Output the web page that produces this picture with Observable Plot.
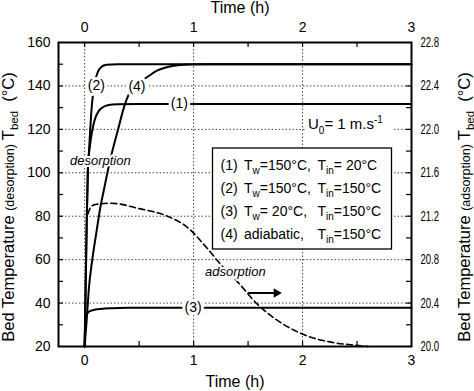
<!DOCTYPE html>
<html><head><meta charset="utf-8">
<script src="https://cdn.jsdelivr.net/npm/d3@7"></script>
<script src="https://cdn.jsdelivr.net/npm/@observablehq/plot@0.6"></script>
<style>body{margin:0;background:#fff}#chart{width:474px;height:391px}</style>
</head><body><div id="chart"></div>
<script>
// ---- tick labels / ticks
const hours = [0, 1, 2, 3];
const timeTicks = [0, 0.5, 1, 1.5, 2, 2.5];
const leftLabels = [20, 40, 60, 80, 100, 120, 140, 160];
const leftTicks = [30, 40, 50, 60, 70, 80, 90, 100, 110, 120, 130, 140, 150];
const rightLabels = [20.0, 20.4, 20.8, 21.2, 21.6, 22.0, 22.4, 22.8];
const rightTicks = [20.2, 20.4, 20.6, 20.8, 21.0, 21.2, 21.4, 21.6, 21.8, 22.0, 22.2, 22.4, 22.6];
const gridX = [0, 1, 2];
const gridY = [40, 60, 80, 100, 120, 140];

// ---- desorption series (left axis, °C)
const t1 = [0, 0.01, 0.02, 0.03, 0.04, 0.05, 0.065, 0.08, 0.1, 0.13, 0.17, 0.22, 0.3, 0.5, 1, 2, 3];
const T1 = [20, 50, 80, 102, 109, 113, 118, 122, 125.5, 128.5, 130.3, 131.2, 131.6, 131.7, 131.7, 131.7, 131.7];
const t2 = [0, 0.01, 0.02, 0.03, 0.04, 0.05, 0.06, 0.07, 0.08, 0.1, 0.12, 0.15, 0.2, 0.3, 0.5, 3];
const T2 = [20, 50, 80, 102, 110, 119, 127, 133, 137.5, 143, 146.3, 148.6, 149.7, 150, 150, 150];
const t3 = [0, 0.003, 0.007, 0.012, 0.02, 0.035, 0.06, 0.1, 0.15, 0.25, 0.4, 0.7, 1, 3];
const T3 = [20, 27, 31, 33.2, 34.7, 35.8, 36.5, 37, 37.3, 37.6, 37.8, 37.9, 37.9, 37.9];
const t4 = [0, 0.02, 0.037, 0.07, 0.1, 0.144, 0.174, 0.23, 0.312, 0.36, 0.4, 0.435, 0.5, 0.572, 0.664, 0.817, 0.95, 1.1, 3];
const T4 = [20, 33, 45.6, 60, 70, 84, 91.5, 105, 121, 130, 135.5, 138.5, 141.5, 144, 147, 149.3, 149.9, 150, 150];

// ---- adsorption series (right axis, °C)
const ta = [0.03, 0.06, 0.11, 0.24, 0.5, 0.76, 0.94, 1.12, 1.245, 1.4, 1.585, 1.77, 2.01, 2.26, 2.5, 2.6];
const va = [21.22, 21.29, 21.31, 21.32, 21.27, 21.2, 21.1, 20.91, 20.76, 20.6, 20.39, 20.24, 20.11, 20.04, 20.01, 20.0];

// ---- annotations
const curveNames = ["(1)", "(2)", "(3)", "(4)"];
const curveNameT = [0.87, 0.107, 0.995, 0.48];
const curveNameY = [131.7, 140, 37.9, 139.8];
const phaseNames = ["desorption", "adsorption"];
const phaseT = [0.144, 1.383];
const phaseY = [105.5, 54.4];
const arrowT = [1.505, 1.76];
const arrowY = 44.6;
const legendNums = ["(1)", "(2)", "(3)", "(4)"];
const legendWall = ["=150°C,", "=150°C,", "= 20°C,", null];
const legendInlet = ["= 20°C", "=150°C", "=150°C", "=150°C"];

const FONT = "Liberation Sans, Arial, Helvetica, sans-serif";
const W = 474, H = 391, ML = 58, MR = 63, MT = 42, MB = 45;
const PW = W - ML - MR, PH = H - MT - MB;
const toLeft = v => 20 + (v - 20) * 50;   // right axis (20.0–22.8) onto left (20–160)

const lineStyle = {stroke: "black", strokeWidth: 2, curve: "monotone-x"};

const chart = Plot.plot({
  width: W, height: H,
  marginLeft: ML, marginRight: MR, marginTop: MT, marginBottom: MB,
  x: {domain: [-0.24, 3]},
  y: {domain: [20, 160]},
  style: {fontFamily: FONT, fontSize: "14px", color: "black", background: "white"},
  marks: [
    Plot.ruleY(gridY, {stroke: "#333", strokeWidth: 0.9, strokeDasharray: "1.5,2"}),
    Plot.ruleX(gridX, {stroke: "#333", strokeWidth: 0.9, strokeDasharray: "1.5,2"}),
    Plot.tickY(leftTicks, {y: d => d, insetRight: PW - 5, stroke: "black", strokeWidth: 1.2}),
    Plot.tickY(rightTicks, {y: d => toLeft(d), insetLeft: PW - 5, stroke: "black", strokeWidth: 1.2}),
    Plot.tickX(timeTicks, {x: d => d, insetBottom: PH - 5, stroke: "black", strokeWidth: 1.2}),
    Plot.tickX(timeTicks, {x: d => d, insetTop: PH - 5, stroke: "black", strokeWidth: 1.2}),
    Plot.line(va, {x: ta, y: va.map(toLeft), stroke: "black", strokeWidth: 1.6, strokeDasharray: "6,3.5", curve: "monotone-x"}),
    Plot.line(T3, {x: t3, y: T3, ...lineStyle}),
    Plot.line(T4, {x: t4, y: T4, ...lineStyle}),
    Plot.line(T1, {x: t1, y: T1, ...lineStyle}),
    Plot.line(T2, {x: t2, y: T2, ...lineStyle}),
    Plot.line(arrowT, {x: arrowT, y: arrowT.map(() => arrowY), stroke: "black", strokeWidth: 2}),
    Plot.dot([arrowT[1]], {x: d => d, y: () => arrowY, symbol: "triangle2", rotate: 90, r: 4.5, fill: "black", stroke: "none"}),
    Plot.text(curveNames, {x: curveNameT, y: curveNameY, text: d => d, fontSize: 14, fill: "black", stroke: "white", strokeWidth: 6}),
    Plot.text(phaseNames, {x: phaseT, y: phaseY, text: d => d, fontSize: 13, fontStyle: "italic", fill: "black", stroke: "white", strokeWidth: 4}),
    Plot.frame({stroke: "black", strokeWidth: 2}),
    Plot.axisX({anchor: "top", ticks: hours, tickFormat: d => String(d), tickSize: 0, tickPadding: 11, fontSize: 14, label: null}),
    Plot.axisX({anchor: "bottom", ticks: hours, tickFormat: d => String(d), tickSize: 0, tickPadding: 9, fontSize: 14, label: null}),
    Plot.axisY({anchor: "left", ticks: leftLabels, tickFormat: d => String(d), tickSize: 0, tickPadding: 8, fontSize: 14, label: null}),
    Plot.axisY({anchor: "right", ticks: rightLabels.map(toLeft), tickFormat: d => ((d - 20) / 50 + 20).toFixed(1), tickSize: 0, tickPadding: 9, fontSize: 14, label: null})
  ]
});
document.getElementById("chart").appendChild(chart);

const svg = d3.select(chart);
// condensed right tick labels
const tickGroups = svg.selectAll('g[aria-label="y-axis tick label"]').nodes();
d3.select(tickGroups[tickGroups.length - 1]).selectAll("text")
  .attr("textLength", 18.5).attr("lengthAdjust", "spacingAndGlyphs");

// axis titles
svg.append("text").attr("x", 240).attr("y", 13).attr("text-anchor", "middle")
  .attr("font-family", FONT).attr("font-size", 16).text("Time (h)");
svg.append("text").attr("x", 235).attr("y", 387).attr("text-anchor", "middle")
  .attr("font-family", FONT).attr("font-size", 16).text("Time (h)");

function yTitle(x, word) {
  const t = svg.append("text").attr("transform", `translate(${x},207) rotate(-90)`)
    .attr("text-anchor", "middle").attr("font-family", FONT).attr("fill", "black");
  t.append("tspan").attr("font-size", 16.5).text("Bed Temperature ");
  t.append("tspan").attr("font-size", 12.5).text(word);
  t.append("tspan").attr("font-size", 16.5).attr("dx", 4).text("T");
  t.append("tspan").attr("font-size", 11.5).attr("dy", 3.5).text("bed");
  t.append("tspan").attr("font-size", 16.5).attr("dy", -3.5).attr("dx", 9).text("(°C)");
}
yTitle(14, "(desorption)");
yTitle(470, "(adsorption)");

// U0 annotation
const ug = svg.append("g").attr("font-family", FONT).attr("text-anchor", "start");
ug.append("rect").attr("x", 305).attr("y", 112).attr("width", 88).attr("height", 26).attr("fill", "white");
const ut = ug.append("text").attr("x", 308).attr("y", 129).attr("font-size", 15);
ut.append("tspan").text("U");
ut.append("tspan").attr("font-size", 10).attr("dy", 5).text("0");
ut.append("tspan").attr("dy", -5).text("= 1 m.s");
ut.append("tspan").attr("font-size", 10).attr("dy", -6).text("-1");

// legend box
const lg = svg.append("g").attr("font-family", FONT).attr("font-size", 14).attr("text-anchor", "start");
lg.append("rect").attr("x", 212.5).attr("y", 148).attr("width", 179).attr("height", 101)
  .attr("fill", "white").attr("stroke", "black").attr("stroke-width", 1.3);
legendNums.forEach((n, i) => {
  const yb = 170 + i * 23.1;
  lg.append("text").attr("x", 220.5).attr("y", yb).text(n);
  const a = lg.append("text").attr("x", 244).attr("y", yb);
  if (legendWall[i]) {
    a.append("tspan").text("T");
    a.append("tspan").attr("font-size", 10).attr("dy", 4).text("w");
    a.append("tspan").attr("dy", -4).text(legendWall[i]);
  } else {
    a.text("adiabatic,");
  }
  const b = lg.append("text").attr("x", 317.5).attr("y", yb);
  b.append("tspan").text("T");
  b.append("tspan").attr("font-size", 10).attr("dy", 4).text("in");
  b.append("tspan").attr("dy", -4).text(legendInlet[i]);
});
</script></body></html>
